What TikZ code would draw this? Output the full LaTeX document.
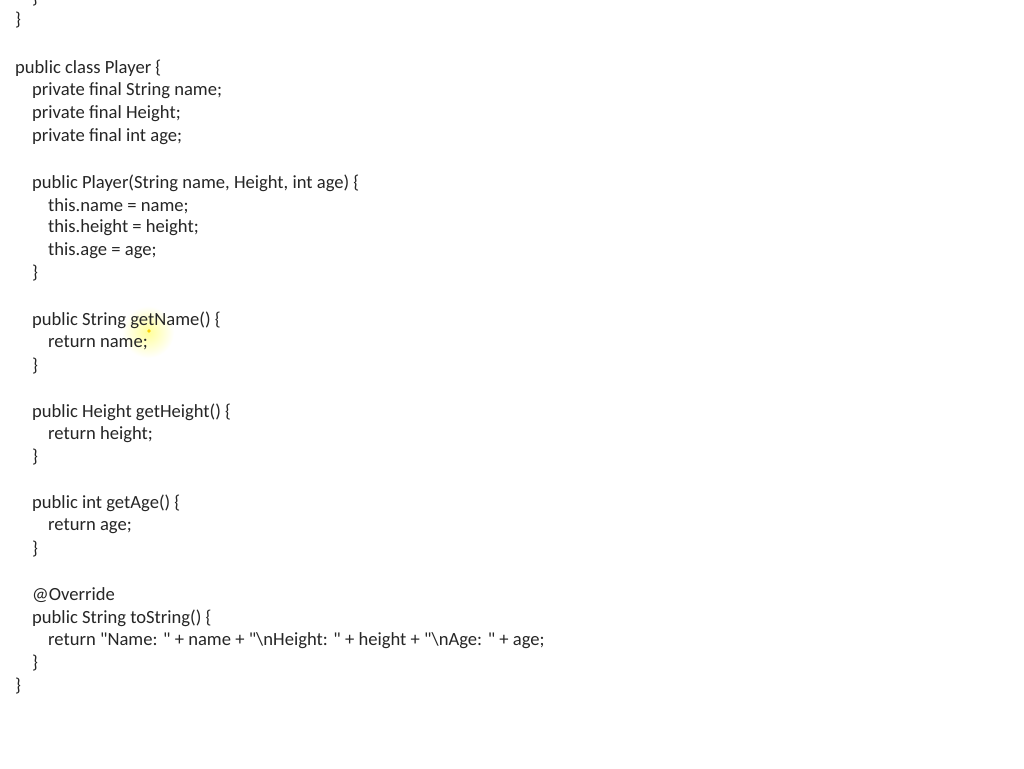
\documentclass[tikz,border=0pt]{standalone}
\usepackage{fontspec}
\setmainfont{Carlito}[Ligatures=TeXOff]
\newcommand{\dq}{\symbol{34}}
\begin{document}
\begin{tikzpicture}[x=1pt,y=-1pt,
  code/.style={anchor=west,inner sep=0pt,font=\fontsize{18.6}{22}\selectfont,text=black!85}]
\useasboundingbox[fill=white] (0,0) rectangle (1024,768);
\shade[inner color=yellow!40,outer color=white] (148,332) circle (26);
\fill[yellow!70!orange] (149,331) circle (1.8);
\node[code] (t0) at (32,-2) {\}};
\node[code] (t1) at (15,20) {\}};
\node[code] (l1) at (15,68) {public class Player \{};
\node[code] (l2) at (32,91) {private final String name;};
\node[code] (l3) at (32,114) {private final Height;};
\node[code] (l4) at (32,137) {private final int age;};
\node[code] (l5) at (32,183) {public Player(String name, Height, int age) \{};
\node[code] (l6) at (48,206) {this.name = name;};
\node[code] (l7) at (48,228) {this.height = height;};
\node[code] (l8) at (48,251) {this.age = age;};
\node[code] (l9) at (32,273) {\}};
\node[code] (l10) at (32,320) {public String getName() \{};
\node[code] (l11) at (48,343) {return name;};
\node[code] (l12) at (32,366) {\}};
\node[code] (l13) at (32,412) {public Height getHeight() \{};
\node[code] (l14) at (48,435) {return height;};
\node[code] (l15) at (32,457) {\}};
\node[code] (l16) at (32,503) {public int getAge() \{};
\node[code] (l17) at (48,526) {return age;};
\node[code] (l18) at (32,549) {\}};
\node[code] (l19) at (32,595) {@Override};
\node[code] (l20) at (32,618) {public String toString() \{};
\node[code] (l21) at (48,641) {return \dq Name: \dq{} + name + \dq\string\nHeight: \dq{} + height + \dq\string\nAge: \dq{} + age;};
\node[code] (l22) at (32,663) {\}};
\node[code] (l23) at (15,686) {\}};
\end{tikzpicture}
\end{document}
